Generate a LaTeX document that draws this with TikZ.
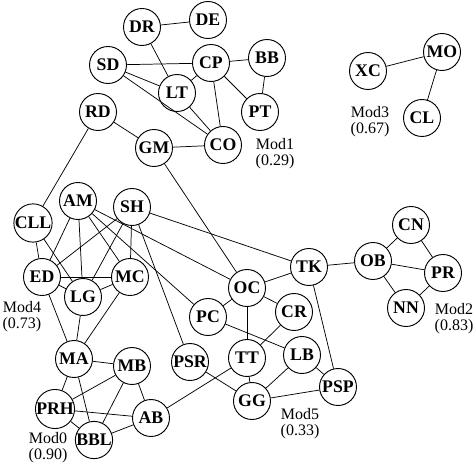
\documentclass[tikz,border=0pt]{standalone}
\usepackage{fontspec}
\setmainfont{Liberation Serif}
\begin{document}
\begin{tikzpicture}[x=0.75pt,y=-0.75pt,
  vtx/.style={circle,draw,line width=0.7pt,minimum size=27.75pt,inner sep=0pt,font=\fontsize{13.3}{15}\selectfont\bfseries},
  modlabel/.style={align=center,inner sep=0pt,font=\fontsize{12}{12}\selectfont},
  edge/.style={line width=0.55pt}]
\useasboundingbox (0,0) rectangle (474,467);
% Mod1
\node[vtx] (DR) at (142,27) {DR};
\node[vtx] (DE) at (208,20) {DE};
\node[vtx] (SD) at (108,65) {SD};
\node[vtx] (CP) at (211,63) {CP};
\node[vtx] (BB) at (267,58) {BB};
\node[vtx] (LT) at (177,93) {LT};
\node[vtx] (PT) at (260,112) {PT};
\node[vtx] (RD) at (98,112) {RD};
\node[vtx] (GM) at (154,148) {GM};
\node[vtx] (CO) at (223,145) {CO};
% Mod3
\node[vtx] (XC) at (368,71) {XC};
\node[vtx] (MO) at (442,52) {MO};
\node[vtx] (CL) at (422,118) {CL};
% Mod4
\node[vtx] (CLL) at (33,223) {CLL};
\node[vtx] (AM) at (78,201) {AM};
\node[vtx] (SH) at (132,207) {SH};
\node[vtx] (ED) at (42,277) {ED};
\node[vtx] (LG) at (83,297) {LG};
\node[vtx] (MC) at (130,277) {MC};
% Mod2
\node[vtx] (OB) at (373,261) {OB};
\node[vtx] (CN) at (411,225) {CN};
\node[vtx] (PR) at (443,273) {PR};
\node[vtx] (NN) at (406,308) {NN};
% Mod5
\node[vtx] (OC) at (247,288) {OC};
\node[vtx] (TK) at (309,267) {TK};
\node[vtx] (PC) at (208,317) {PC};
\node[vtx] (CR) at (294,312) {CR};
\node[vtx] (PSR) at (190,362) {PSR};
\node[vtx] (TT) at (247,358) {TT};
\node[vtx] (LB) at (302,355) {LB};
\node[vtx] (GG) at (252,401) {GG};
\node[vtx] (PSP) at (338,387) {PSP};
% Mod0
\node[vtx] (MA) at (74,359) {MA};
\node[vtx] (MB) at (132,366) {MB};
\node[vtx] (PRH) at (55,409) {PRH};
\node[vtx] (AB) at (151,418) {AB};
\node[vtx] (BBL) at (94,440) {BBL};
% labels
\node[modlabel] (L1) at (275,154) {Mod1\\(0.29)};
\node[modlabel] (L3) at (370,122) {Mod3\\(0.67)};
\node[modlabel] (L4) at (22,317) {Mod4\\(0.73)};
\node[modlabel] (L2) at (454,319) {Mod2\\(0.83)};
\node[modlabel] (L5) at (300,424) {Mod5\\(0.33)};
\node[modlabel] (L0) at (48,448) {Mod0\\(0.90)};
% edges
\begin{scope}[edge]
\draw (DR)--(DE); \draw (DR)--(LT);
\draw (SD)--(CP); \draw (SD)--(LT); \draw (SD)--(CO);
\draw (CP)--(LT); \draw (CP)--(CO); \draw (CP)--(BB); \draw (CP)--(PT);
\draw (LT)--(CO); \draw (BB)--(PT);
\draw (RD)--(GM); \draw (GM)--(CO);
\draw (RD)--(CLL); \draw (GM)--(OC);
\draw (XC)--(MO); \draw (MO)--(CL);
\draw (CLL)--(ED); \draw (CLL)--(LG);
\draw (AM)--(ED); \draw (AM)--(LG); \draw (AM)--(MC); \draw (AM)--(OC); \draw (AM)--(PC);
\draw (SH)--(ED); \draw (SH)--(LG); \draw (SH)--(MC); \draw (SH)--(PSR); \draw (SH)--(TK);
\draw (ED)--(LG); \draw (ED)--(MC); \draw (ED)--(MA);
\draw (LG)--(MC); \draw (LG)--(MA); \draw (MC)--(MA);
\draw (MA)--(MB); \draw (MA)--(PRH); \draw (MA)--(BBL);
\draw (MB)--(PRH); \draw (MB)--(BBL); \draw (MB)--(AB);
\draw (PRH)--(AB); \draw (PRH)--(BBL); \draw (BBL)--(AB);
\draw (AB)--(TT);
\draw (OC)--(TK); \draw (OC)--(PC); \draw (OC)--(CR); \draw (OC)--(TT);
\draw (CR)--(TT); \draw (PC)--(LB);
\draw (PSR)--(GG); \draw (TT)--(GG); \draw (LB)--(GG); \draw (LB)--(PSP);
\draw (GG)--(PSP); \draw (TK)--(PSP); \draw (TK)--(OB);
\draw (OB)--(CN); \draw (OB)--(PR); \draw (OB)--(NN); \draw (CN)--(PR); \draw (NN)--(PR);
\end{scope}
\end{tikzpicture}
\end{document}
